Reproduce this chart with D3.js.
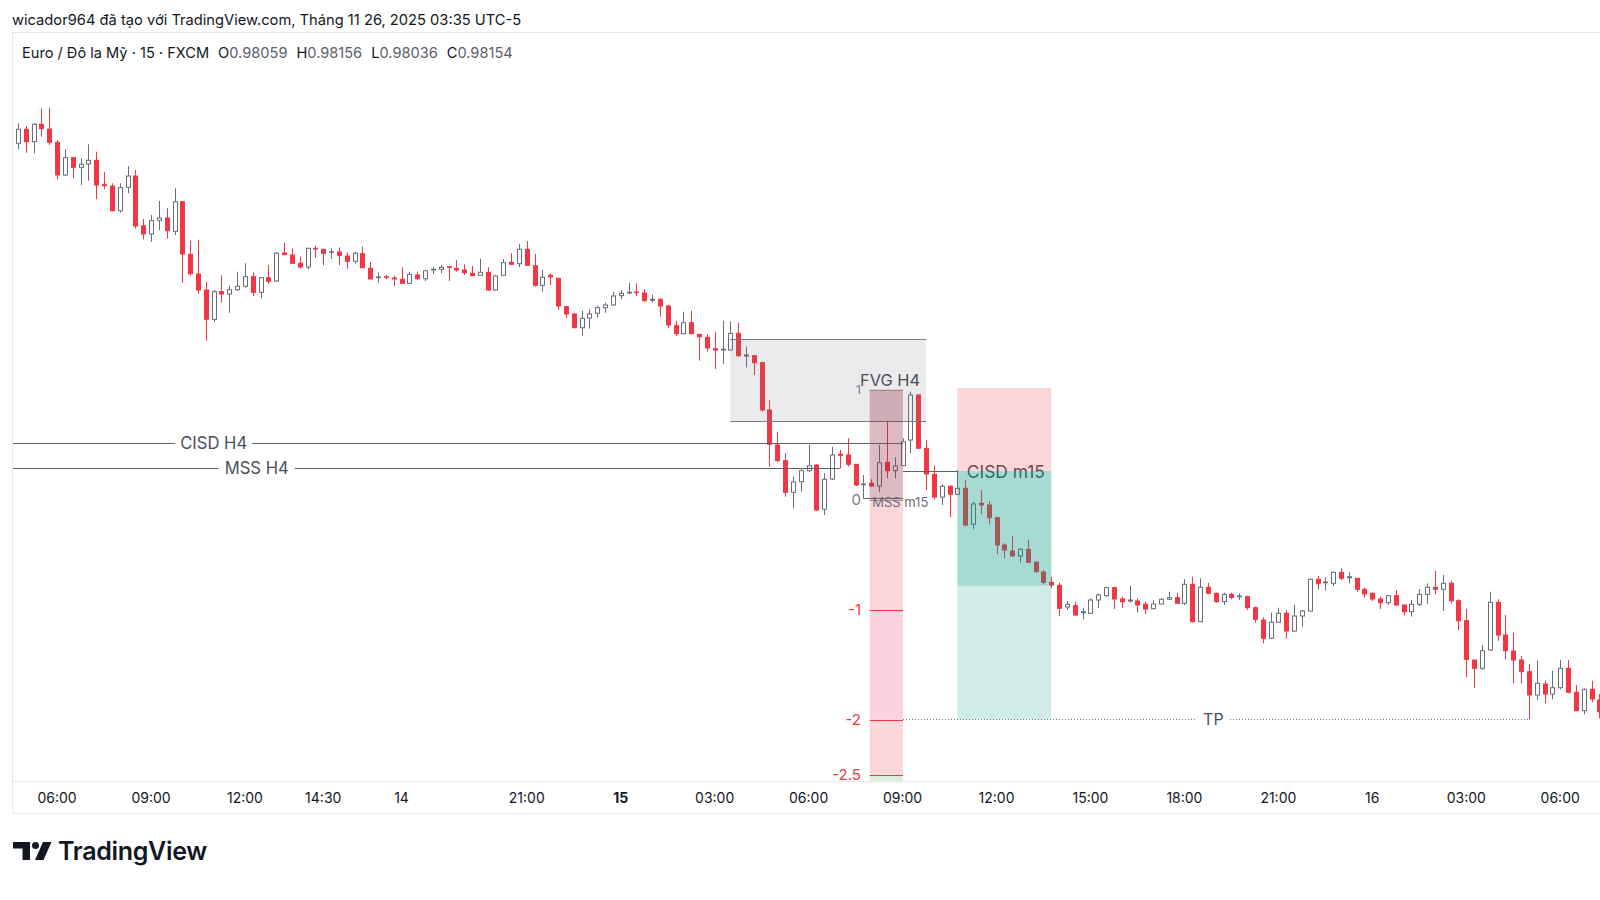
<!DOCTYPE html>
<html>
<head>
<meta charset="utf-8">
<script src="https://cdn.jsdelivr.net/npm/d3@7"></script>
<style>
  body { margin: 0; background: #fff; }
  svg { display: block; font-family: Inter, "Noto Sans", sans-serif; }
</style>
</head>
<body>
<svg id="chart" width="1600" height="900"></svg>
<script>
// EUR/USD 15m candles, one line = 12 bars (3 hours)
var opens = [
  0.98360, 0.98567, 0.98707, 0.98583, 0.98757, 0.98710, 0.98577, 0.98250, 0.98423, 0.98327, 0.98360, 0.98397,
  0.98157, 0.98140, 0.97893, 0.98127, 0.98240, 0.97743, 0.97660, 0.97797, 0.97820, 0.97687, 0.97983, 0.97457,
  0.97260, 0.97100, 0.96807, 0.97083, 0.97060, 0.97103, 0.97137, 0.97233, 0.97077, 0.97223, 0.97190, 0.97470,
  0.97450, 0.97367, 0.97330, 0.97517, 0.97507, 0.97477, 0.97480, 0.97440, 0.97387, 0.97463, 0.97317, 0.97223,
  0.97233, 0.97220, 0.97207, 0.97167, 0.97250, 0.97213, 0.97300, 0.97307, 0.97333, 0.97317, 0.97300, 0.97267,
  0.97247, 0.97277, 0.97100, 0.97247, 0.97377, 0.97363, 0.97507, 0.97343, 0.97147, 0.97247, 0.97217, 0.96933,
  0.96860, 0.96723, 0.96820, 0.96867, 0.96923, 0.96950, 0.97043, 0.97070, 0.97080, 0.97070, 0.96997, 0.97007,
  0.96940, 0.96743, 0.96663, 0.96773, 0.96657, 0.96627, 0.96513, 0.96500, 0.96500, 0.96667, 0.96440, 0.96443,
  0.96373, 0.95900, 0.95550, 0.95393, 0.95077, 0.95183, 0.95293, 0.95350, 0.94907, 0.95210, 0.95457, 0.95450,
  0.95357, 0.95153, 0.95167, 0.95140, 0.95377, 0.95293, 0.95343, 0.95600, 0.96050, 0.95517, 0.95257, 0.95030,
  0.95137, 0.95057, 0.95117, 0.94757, 0.94967, 0.94950, 0.94823, 0.94550, 0.94490, 0.94440, 0.94507, 0.94377,
  0.94280, 0.94177, 0.94147, 0.93930, 0.93943, 0.93873, 0.93867, 0.94000, 0.94043, 0.94123, 0.94010, 0.93990,
  0.93990, 0.93957, 0.93913, 0.93960, 0.94007, 0.94023, 0.93967, 0.94157, 0.93783, 0.94127, 0.94067, 0.93983,
  0.94057, 0.94033, 0.94033, 0.93923, 0.93800, 0.93617, 0.93777, 0.93867, 0.93690, 0.93840, 0.93890, 0.94207,
  0.94173, 0.94167, 0.94277, 0.94223, 0.94217, 0.94107, 0.94067, 0.94010, 0.93973, 0.94043, 0.93950, 0.93883,
  0.93957, 0.94057, 0.94127, 0.94107, 0.94167, 0.93993, 0.93793, 0.93400, 0.93317, 0.93500, 0.93977, 0.93650,
  0.93490, 0.93400, 0.93283, 0.93050, 0.93160, 0.93060, 0.93123, 0.93317, 0.93077, 0.92893, 0.93107, 0.93000
];
var highs = [
  0.98580, 0.98767, 0.98740, 0.98767, 0.98917, 0.98923, 0.98600, 0.98507, 0.98433, 0.98417, 0.98557, 0.98483,
  0.98280, 0.98167, 0.98167, 0.98340, 0.98300, 0.97810, 0.97850, 0.97990, 0.97917, 0.98117, 0.97983, 0.97593,
  0.97603, 0.97180, 0.97100, 0.97247, 0.97143, 0.97283, 0.97367, 0.97277, 0.97230, 0.97350, 0.97477, 0.97573,
  0.97517, 0.97433, 0.97523, 0.97543, 0.97507, 0.97517, 0.97527, 0.97477, 0.97480, 0.97533, 0.97380, 0.97277,
  0.97250, 0.97243, 0.97327, 0.97283, 0.97283, 0.97300, 0.97333, 0.97350, 0.97333, 0.97400, 0.97357, 0.97340,
  0.97413, 0.97327, 0.97250, 0.97407, 0.97467, 0.97560, 0.97590, 0.97460, 0.97300, 0.97267, 0.97217, 0.96940,
  0.96867, 0.96893, 0.96907, 0.96943, 0.96973, 0.97083, 0.97100, 0.97173, 0.97167, 0.97107, 0.97053, 0.97020,
  0.96950, 0.96790, 0.96883, 0.96893, 0.96657, 0.96657, 0.96683, 0.96793, 0.96787, 0.96773, 0.96533, 0.96450,
  0.96383, 0.96000, 0.95683, 0.95467, 0.95233, 0.95307, 0.95550, 0.95360, 0.95267, 0.95533, 0.95500, 0.95617,
  0.95357, 0.95250, 0.95207, 0.95550, 0.95793, 0.95427, 0.95617, 0.96083, 0.96060, 0.95600, 0.95343, 0.95157,
  0.95150, 0.95300, 0.95200, 0.94983, 0.95100, 0.94990, 0.94833, 0.94567, 0.94640, 0.94517, 0.94600, 0.94390,
  0.94300, 0.94233, 0.94173, 0.93990, 0.93983, 0.93923, 0.94017, 0.94067, 0.94133, 0.94133, 0.94033, 0.94140,
  0.94017, 0.93983, 0.94000, 0.94017, 0.94083, 0.94073, 0.94207, 0.94233, 0.94217, 0.94173, 0.94073, 0.94073,
  0.94073, 0.94067, 0.94043, 0.93933, 0.93827, 0.93873, 0.93923, 0.93900, 0.93950, 0.93900, 0.94217, 0.94240,
  0.94227, 0.94283, 0.94317, 0.94277, 0.94217, 0.94123, 0.94077, 0.94033, 0.94050, 0.94100, 0.93960, 0.94000,
  0.94110, 0.94167, 0.94290, 0.94250, 0.94193, 0.94007, 0.93910, 0.93400, 0.93550, 0.94083, 0.94007, 0.93850,
  0.93673, 0.93440, 0.93360, 0.93393, 0.93193, 0.93293, 0.93400, 0.93400, 0.93150, 0.93117, 0.93193, 0.93060
];
var lows = [
  0.98350, 0.98507, 0.98473, 0.98467, 0.98633, 0.98550, 0.98207, 0.98240, 0.98217, 0.98150, 0.98193, 0.98007,
  0.98107, 0.97887, 0.97873, 0.98067, 0.97713, 0.97607, 0.97583, 0.97700, 0.97613, 0.97650, 0.97173, 0.97243,
  0.97060, 0.96593, 0.96780, 0.96973, 0.96873, 0.97090, 0.97123, 0.97040, 0.97017, 0.97160, 0.97180, 0.97453,
  0.97367, 0.97317, 0.97307, 0.97423, 0.97347, 0.97410, 0.97347, 0.97313, 0.97363, 0.97323, 0.97210, 0.97173,
  0.97207, 0.97140, 0.97167, 0.97160, 0.97200, 0.97190, 0.97257, 0.97267, 0.97190, 0.97283, 0.97250, 0.97243,
  0.97247, 0.97090, 0.97093, 0.97240, 0.97350, 0.97327, 0.97347, 0.97133, 0.97083, 0.97150, 0.96900, 0.96817,
  0.96717, 0.96643, 0.96713, 0.96823, 0.96873, 0.96943, 0.97007, 0.97057, 0.97040, 0.96983, 0.96973, 0.96833,
  0.96717, 0.96640, 0.96660, 0.96660, 0.96393, 0.96483, 0.96310, 0.96360, 0.96493, 0.96433, 0.96327, 0.96250,
  0.95883, 0.95333, 0.95383, 0.95033, 0.94917, 0.95083, 0.95283, 0.94893, 0.94850, 0.95200, 0.95317, 0.95333,
  0.95140, 0.95015, 0.95133, 0.95083, 0.95217, 0.95217, 0.95340, 0.95467, 0.95517, 0.95100, 0.95007, 0.94950,
  0.94830, 0.95050, 0.94733, 0.94707, 0.94860, 0.94757, 0.94460, 0.94417, 0.94433, 0.94373, 0.94377, 0.94273,
  0.94157, 0.94117, 0.93840, 0.93900, 0.93840, 0.93807, 0.93860, 0.93917, 0.94033, 0.93910, 0.93917, 0.93973,
  0.93877, 0.93860, 0.93907, 0.93957, 0.94000, 0.93960, 0.93950, 0.93777, 0.93777, 0.94060, 0.93973, 0.93950,
  0.94007, 0.94000, 0.93900, 0.93773, 0.93567, 0.93610, 0.93770, 0.93613, 0.93683, 0.93733, 0.93883, 0.94107,
  0.94093, 0.94140, 0.94200, 0.94167, 0.94080, 0.94023, 0.93990, 0.93910, 0.93950, 0.93943, 0.93847, 0.93833,
  0.93940, 0.93960, 0.94057, 0.93890, 0.93967, 0.93700, 0.93227, 0.93123, 0.93300, 0.93493, 0.93593, 0.93407,
  0.93167, 0.93167, 0.92807, 0.93000, 0.92967, 0.93007, 0.93107, 0.93067, 0.92893, 0.92857, 0.92977, 0.92817
];
var closes = [
  0.98567, 0.98707, 0.98583, 0.98757, 0.98713, 0.98577, 0.98250, 0.98423, 0.98327, 0.98357, 0.98397, 0.98150,
  0.98143, 0.97893, 0.98123, 0.98240, 0.97740, 0.97660, 0.97793, 0.97820, 0.97693, 0.97983, 0.97460, 0.97263,
  0.97100, 0.96807, 0.97083, 0.97060, 0.97103, 0.97137, 0.97233, 0.97077, 0.97223, 0.97187, 0.97467, 0.97453,
  0.97367, 0.97330, 0.97517, 0.97510, 0.97467, 0.97483, 0.97447, 0.97387, 0.97467, 0.97323, 0.97210, 0.97230,
  0.97227, 0.97210, 0.97167, 0.97257, 0.97213, 0.97293, 0.97307, 0.97327, 0.97327, 0.97300, 0.97273, 0.97243,
  0.97277, 0.97100, 0.97240, 0.97373, 0.97357, 0.97507, 0.97347, 0.97147, 0.97227, 0.97230, 0.96940, 0.96860,
  0.96723, 0.96817, 0.96860, 0.96923, 0.96950, 0.97040, 0.97067, 0.97077, 0.97073, 0.96993, 0.97007, 0.96940,
  0.96750, 0.96663, 0.96773, 0.96663, 0.96633, 0.96520, 0.96500, 0.96507, 0.96667, 0.96443, 0.96450, 0.96373,
  0.95900, 0.95557, 0.95393, 0.95077, 0.95180, 0.95293, 0.95343, 0.94900, 0.95207, 0.95450, 0.95447, 0.95357,
  0.95150, 0.95160, 0.95140, 0.95373, 0.95293, 0.95340, 0.95583, 0.96050, 0.95517, 0.95260, 0.95030, 0.95137,
  0.95057, 0.95117, 0.94750, 0.94960, 0.94950, 0.94823, 0.94550, 0.94500, 0.94440, 0.94507, 0.94377, 0.94283,
  0.94177, 0.94150, 0.93917, 0.93957, 0.93850, 0.93883, 0.94000, 0.94050, 0.94123, 0.94010, 0.93983, 0.94000,
  0.93950, 0.93910, 0.93960, 0.94007, 0.94023, 0.93967, 0.94157, 0.93783, 0.94127, 0.94067, 0.93983, 0.94057,
  0.94027, 0.94040, 0.93923, 0.93807, 0.93617, 0.93777, 0.93867, 0.93690, 0.93840, 0.93890, 0.94207, 0.94167,
  0.94180, 0.94277, 0.94217, 0.94233, 0.94107, 0.94060, 0.94010, 0.93973, 0.94043, 0.93950, 0.93883, 0.93957,
  0.94057, 0.94127, 0.94107, 0.94167, 0.93993, 0.93793, 0.93407, 0.93317, 0.93493, 0.93977, 0.93650, 0.93493,
  0.93400, 0.93283, 0.93050, 0.93167, 0.93060, 0.93123, 0.93317, 0.93077, 0.92893, 0.93107, 0.93010, 0.92883
];

// time axis (bar index -> label)
var tickIdx = [6, 18, 30, 40, 50, 66, 78, 90, 102, 114, 126, 138, 150, 162, 174, 186, 198];
var tickText = ["06:00", "09:00", "12:00", "14:30", "14", "21:00", "15", "03:00", "06:00", "09:00",
                "12:00", "15:00", "18:00", "21:00", "16", "03:00", "06:00"];
var tickBold = ["15"];

// drawings (prices, bar indices)
var cisdH4 = 0.95573, mssH4 = 0.95321, mssM15 = 0.95015, cisdM15 = 0.95290;
var fvgTop = 0.96610, fvgBottom = 0.95790;
var fibHigh = 0.96105, fibLow = 0.95005;
var fibLevels = [1, 0, -1, -2, -2.5];
var posStop = 0.96120, posEntry = 0.95290, posReached = 0.94143, posTarget = 0.92805;

var red = "#f23645", gray = "#6a6d78", ink = "#131722";

var svg = d3.select("#chart");
var x = d3.scaleLinear().domain([0, 198]).range([10.1, 1560.2]);
var y = d3.scaleLinear().domain([0.9, 1.0]).range([1000, 0]);
var plotL = 12, plotT = 33, plotR = 1600, plotB = 781;

// header
svg.append("text").attr("x", 12).attr("y", 24.5)
  .attr("font-size", 14.7).attr("fill", ink)
  .text("wicador964 đã tạo với TradingView.com, Tháng 11 26, 2025 03:35 UTC-5");

svg.append("rect").attr("x", 12.5).attr("y", 32.5).attr("width", 1600).attr("height", 781)
  .attr("fill", "none").attr("stroke", "#e6e8ee");
svg.append("line").attr("x1", 12).attr("x2", 1600).attr("y1", plotB + 0.5).attr("y2", plotB + 0.5)
  .attr("stroke", "#e6e8ee");

var legend = svg.append("text").attr("x", 22).attr("y", 57.5).attr("font-size", 14.6).attr("fill", ink);
legend.append("tspan").text("Euro / Đô la Mỹ · 15 · FXCM");
[["O", "0.98059"], ["H", "0.98156"], ["L", "0.98036"], ["C", "0.98154"]].forEach(function (p, i) {
  legend.append("tspan").attr("dx", 9).text(p[0]);
  legend.append("tspan").attr("fill", "#5d606b").text(p[1]);
});

svg.append("clipPath").attr("id", "plot")
  .append("rect").attr("x", plotL + 1).attr("y", plotT + 1)
  .attr("width", plotR - plotL).attr("height", plotB - plotT - 1);

var plot = svg.append("g").attr("clip-path", "url(#plot)");

var candles = opens.map(function (o, i) {
  return { i: i, o: o, h: highs[i], l: lows[i], c: closes[i], up: closes[i] >= o };
});
function cx(d) { return Math.round(x(d.i)) + 0.5; }

plot.selectAll(".wick").data(candles).enter().append("line")
  .attr("class", "wick")
  .attr("x1", cx).attr("x2", cx)
  .attr("y1", function (d) { return y(d.h); })
  .attr("y2", function (d) { return y(d.l); })
  .attr("stroke", function (d) { return d.up ? gray : red; });

plot.selectAll(".body").data(candles).enter().append("rect")
  .attr("class", "body")
  .attr("x", function (d) { return cx(d) - 2; })
  .attr("width", 4)
  .attr("y", function (d) { return y(Math.max(d.o, d.c)); })
  .attr("height", function (d) { return Math.max(Math.abs(y(d.o) - y(d.c)), 0.6); })
  .attr("fill", function (d) { return d.up ? "#fff" : red; })
  .attr("stroke", function (d) { return d.up ? gray : red; });

var draw = svg.append("g").attr("clip-path", "url(#plot)");

function hline(price, i0, i1, color, dash) {
  var yy = Math.round(y(price)) + 0.5;
  var l = draw.append("line").attr("x1", x(i0)).attr("x2", x(i1)).attr("y1", yy).attr("y2", yy)
    .attr("stroke", color);
  if (dash) l.attr("stroke-dasharray", dash);
  return l;
}
function label(str, i, price, size, color, anchor, gap) {
  var t = draw.append("text").attr("x", x(i)).attr("y", y(price))
    .attr("dy", "0.35em").attr("font-size", size).attr("fill", color)
    .attr("text-anchor", anchor || "middle").text(str);
  if (gap) {
    var b = t.node().getBBox();
    draw.insert("rect", function () { return t.node(); })
      .attr("x", b.x - gap).attr("y", b.y).attr("width", b.width + 2 * gap).attr("height", b.height)
      .attr("fill", "#fff");
  }
  return t;
}

// FVG H4 box
draw.append("rect").attr("x", x(92)).attr("width", x(117) - x(92))
  .attr("y", y(fvgTop)).attr("height", y(fvgBottom) - y(fvgTop))
  .attr("fill", "rgba(120,123,134,0.15)");
hline(fvgTop, 92, 117, "#77797f");
hline(fvgBottom, 92, 117, "#77797f");

// CISD m15 label sits under the position box
label("CISD m15", 122.2, cisdM15 - 0.00010, 17.4, "#4c4f5a", "start");

// long/short position tool
var p0 = 121, p1 = 133;
function band(i0, i1, a, b, fill) {
  draw.append("rect").attr("x", x(i0)).attr("width", x(i1) - x(i0))
    .attr("y", y(Math.max(a, b))).attr("height", Math.abs(y(a) - y(b))).attr("fill", fill);
}
band(p0, p1, posStop, posEntry, "rgba(242,54,69,0.2)");
band(p0, p1, posEntry, posReached, "rgba(8,153,129,0.36)");
band(p0, p1, posReached, posTarget, "rgba(8,153,129,0.19)");

// fib extension
var f0 = 109.8, f1 = 114.05;
function fibPrice(l) { return fibLow + l * (fibHigh - fibLow); }
band(f0, f1, fibPrice(1), fibPrice(0), "rgba(150,45,65,0.32)");
band(f0, f1, fibPrice(0), fibPrice(-1), "rgba(242,54,69,0.2)");
band(f0, f1, fibPrice(-1), fibPrice(-2), "rgba(233,30,99,0.2)");
band(f0, f1, fibPrice(-2), fibPrice(-2.5), "rgba(242,54,69,0.2)");
band(f0, f1, fibPrice(-2.5), fibPrice(-3), "rgba(76,175,80,0.2)");
fibLevels.forEach(function (l) {
  var c = l < 0 ? red : "#a9878d";
  hline(fibPrice(l), f0, f1, c);
  draw.append("text").attr("x", 861).attr("y", y(fibPrice(l)))
    .attr("dy", "0.35em").attr("text-anchor", "end")
    .attr("font-size", l === 1 ? 12 : 15).attr("fill", l < 0 ? red : "#787b86")
    .text(l);
});

// structure lines
hline(cisdH4, -2, f1, "#5d606b");
hline(mssH4, -2, 106, "#5d606b");
hline(mssM15, 109, f1, "#5d606b");
hline(cisdM15, f1, p0, "#5d606b");
hline(posTarget, f1, 194, "#787b86", "1,2");

label("CISD H4", 26, cisdH4, 16.6, "#4c4f5a", "middle", 5);
label("MSS H4", 31.5, mssH4, 16.6, "#4c4f5a", "middle", 6);
label("TP", 153.7, posTarget, 16, "#4c4f5a", "middle", 6);
label("FVG H4", 112.4, fvgBottom + 0.00405, 16.4, "#4c4f5a");
label("MSS m15", 113.7, mssM15 - 0.00035, 13, "#6a6d78");

// time axis
tickIdx.forEach(function (t, k) {
  svg.append("text").attr("x", x(t)).attr("y", 803)
    .attr("text-anchor", "middle").attr("font-size", 14).attr("fill", ink)
    .attr("font-weight", tickBold.indexOf(tickText[k]) >= 0 ? 700 : 400)
    .text(tickText[k]);
});

// TradingView logo
var logo = svg.append("g").attr("fill", "#131722");
logo.append("path").attr("d", "M13,842 H30 V860 H22.5 V848.5 H13 Z");
logo.append("circle").attr("cx", 35.5).attr("cy", 845.5).attr("r", 3.5);
logo.append("path").attr("d", "M43,842 H51.5 L43.5,860 H35 Z");
svg.append("text").attr("x", 58).attr("y", 860).attr("font-size", 25).attr("font-weight", 600)
  .attr("fill", "#131722").attr("letter-spacing", -0.3).text("TradingView");
</script>
</body>
</html>
